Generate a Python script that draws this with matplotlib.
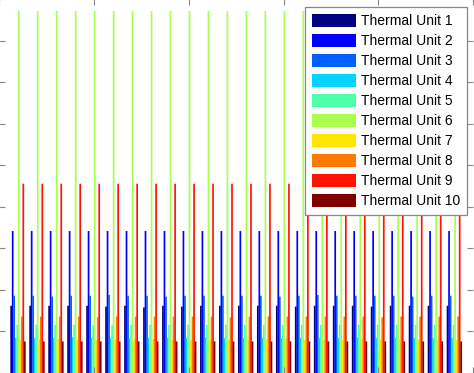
import numpy as np
import matplotlib
matplotlib.use("Agg")
import matplotlib.pyplot as plt

hours = list(range(1, 25))
unit_names = ["Thermal Unit %d" % i for i in range(1, 11)]

u1 = [81, 81, 81, 81, 81, 80, 81, 79, 81, 80, 81, 81, 81, 81, 81, 80, 81, 81, 81, 80, 81, 81, 81, 81]
u2 = [171, 171, 171, 171, 171, 171, 171, 171, 171, 171, 171, 171, 171, 171, 171, 171, 171, 171, 171, 171, 171, 171, 171, 171]
u3 = [93, 93, 92, 93, 93, 94, 93, 93, 92, 93, 93, 93, 93, 93, 92, 93, 94, 93, 93, 93, 93, 92, 93, 93]
u4 = [42, 42, 42, 43, 42, 42, 42, 42, 42, 42, 43, 42, 42, 42, 42, 42, 42, 42, 43, 42, 42, 42, 42, 42]
u5 = [58, 58, 58, 58, 58, 58, 58, 58, 58, 58, 58, 58, 58, 58, 58, 58, 58, 58, 58, 58, 58, 58, 58, 58]
u6 = [436, 436, 436, 436, 436, 436, 436, 436, 436, 436, 436, 436, 436, 436, 436, 436, 436, 436, 436, 436, 436, 436, 436, 436]
u7 = [40, 40, 41, 40, 40, 40, 40, 41, 40, 40, 40, 40, 40, 40, 41, 40, 40, 40, 40, 40, 41, 40, 40, 40]
u8 = [68, 68, 68, 68, 67, 68, 68, 68, 68, 68, 68, 67, 68, 68, 68, 68, 68, 68, 68, 67, 68, 68, 68, 68]
u9 = [228, 228, 228, 228, 228, 228, 228, 228, 228, 228, 228, 228, 228, 228, 228, 228, 228, 228, 228, 228, 228, 228, 228, 228]
u10 = [38, 38, 38, 38, 38, 38, 38, 38, 38, 38, 38, 38, 38, 38, 38, 38, 38, 38, 38, 38, 38, 38, 38, 38]
units = [u1, u2, u3, u4, u5, u6, u7, u8, u9, u10]

colors = plt.cm.jet(np.linspace(0, 1, 10))

W, H = 474, 373
fig = plt.figure(figsize=(W / 100, H / 100), dpi=100)
ax = fig.add_axes([-0.97 / W, 0.0, 474.3 / W, 373.6 / H])

x = np.array(hours, dtype=float)
step = 0.08
for i, vals in enumerate(units):
    bars = ax.bar(x + (i - 4.5) * step, vals, width=0.09, color=colors[i],
                  edgecolor="none", label=unit_names[i])
    for b in bars:
        b.set_snap(False)

ax.set_xlim(0, 25)
ax.set_ylim(0, 450)
ax.set_xticks([0, 5, 10, 15, 20, 25])
ax.set_yticks(np.arange(0, 451, 50))
ax.tick_params(direction="in", length=4.5, width=0.8, color="#888888",
               top=True, right=True, bottom=True, left=True,
               labelleft=False, labelbottom=False)
for s in ax.spines.values():
    s.set_visible(False)

leg = ax.legend(loc="upper right", bbox_to_anchor=(467.0 / W, 1 - 7.0 / H),
                bbox_transform=fig.transFigure,
                prop={"family": "Liberation Sans", "size": 10},
                handlelength=3.15, handleheight=1.05, labelspacing=0.42,
                handletextpad=0.35, borderpad=0.5, borderaxespad=0,
                fancybox=False, framealpha=1, edgecolor="#888888")
leg.get_frame().set_linewidth(0.9)

fig.savefig("out.png", dpi=100)
